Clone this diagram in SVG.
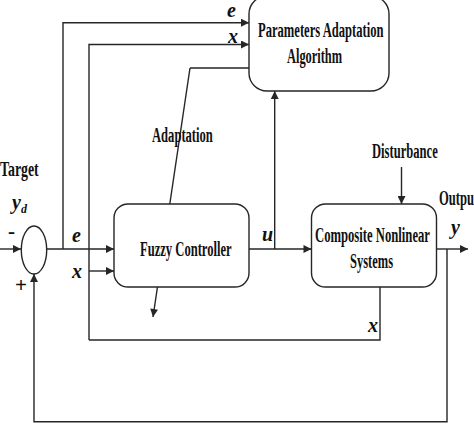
<svg xmlns="http://www.w3.org/2000/svg" width="474" height="424" viewBox="0 0 474 424">
  <style>
    .ln { fill: none; stroke: #262626; stroke-width: 1.4; }
    .box { fill: #ffffff; stroke: #262626; stroke-width: 1.4; }
    .t { font-family: "Liberation Serif", "Times New Roman", serif; font-weight: bold; font-size: 21px; fill: #111111; }
    .v { font-family: "Liberation Serif", "Times New Roman", serif; font-style: italic; font-weight: bold; font-size: 20px; fill: #111111; }
  </style>
  <defs>
    <marker id="arr" viewBox="0 0 10 10" refX="10" refY="5" markerUnits="userSpaceOnUse" markerWidth="9" markerHeight="8" orient="auto">
      <path d="M0,0 L10,5 L0,10 z" fill="#262626"/>
    </marker>
  </defs>
  <rect width="474" height="424" fill="#ffffff"/>

  <g id="connectors">
    <line class="ln" x1="0" y1="249" x2="21" y2="249" marker-end="url(#arr)"/>
    <line class="ln" x1="47" y1="249" x2="114" y2="249" marker-end="url(#arr)"/>
    <polyline class="ln" points="63,249 63,22.7 249,22.7" marker-end="url(#arr)"/>
    <polyline class="ln" points="89,340 89,44.5 249,44.5" marker-end="url(#arr)"/>
    <line class="ln" x1="89" y1="271" x2="114" y2="271" marker-end="url(#arr)"/>
    <line class="ln" x1="249" y1="68" x2="190" y2="68"/>
    <line class="ln" x1="190" y1="68" x2="153" y2="317" marker-end="url(#arr)"/>
    <line class="ln" x1="249" y1="249" x2="311.5" y2="249" marker-end="url(#arr)"/>
    <line class="ln" x1="274.7" y1="249" x2="274.7" y2="91" marker-end="url(#arr)"/>
    <line class="ln" x1="436" y1="249" x2="468" y2="249" marker-end="url(#arr)"/>
    <polyline class="ln" points="447,249 447,421.7 34,421.7 34,274" marker-end="url(#arr)"/>
    <polyline class="ln" points="380,287 380,340 89,340"/>
    <line class="ln" x1="401.5" y1="167" x2="401.5" y2="204" marker-end="url(#arr)"/>
  </g>

  <g id="sum">
    <ellipse class="box" cx="34" cy="250" rx="12.7" ry="24"/>
  </g>

  <g id="paa">
    <rect class="box" x="249" y="-4" width="140" height="95" rx="18" ry="18"/>
    <text class="t" transform="translate(258,37) scale(0.6,1)">Parameters Adaptation</text>
    <text class="t" transform="translate(287,63) scale(0.59,1)">Algorithm</text>
  </g>

  <g id="fuzzy">
    <rect class="box" x="114" y="204" width="135" height="83" rx="14" ry="14"/>
    <text class="t" transform="translate(140,256) scale(0.6,1)">Fuzzy Controller</text>
  </g>

  <g id="plant">
    <rect class="box" x="311.5" y="204" width="125" height="83" rx="14" ry="14"/>
    <text class="t" transform="translate(315,242) scale(0.603,1)">Composite Nonlinear</text>
    <text class="t" transform="translate(350,268) scale(0.595,1)">Systems</text>
  </g>

  <g id="labels">
    <text class="t" transform="translate(0,176) scale(0.66,1)">Target</text>
    <text class="t" transform="translate(152,142) scale(0.6,1)">Adaptation</text>
    <text class="t" transform="translate(372,158) scale(0.6,1)">Disturbance</text>
    <text class="t" transform="translate(439,205) scale(0.6,1)">Outpu</text>

    <text class="v" x="227" y="17" font-size="18">e</text>
    <text class="v" x="228" y="43">x</text>
    <text class="v" x="12" y="209" font-weight="normal">y<tspan font-size="12" dy="4">d</tspan></text>
    <text class="t" x="8" y="238">-</text>
    <text class="t" x="15" y="292" font-weight="normal">+</text>
    <text class="v" x="72" y="242">e</text>
    <text class="v" x="72" y="278" font-weight="normal">x</text>
    <text class="v" x="262" y="241">u</text>
    <text class="v" x="451" y="234" font-weight="normal">y</text>
    <text class="v" x="368" y="332" font-weight="normal">x</text>
  </g>
</svg>
